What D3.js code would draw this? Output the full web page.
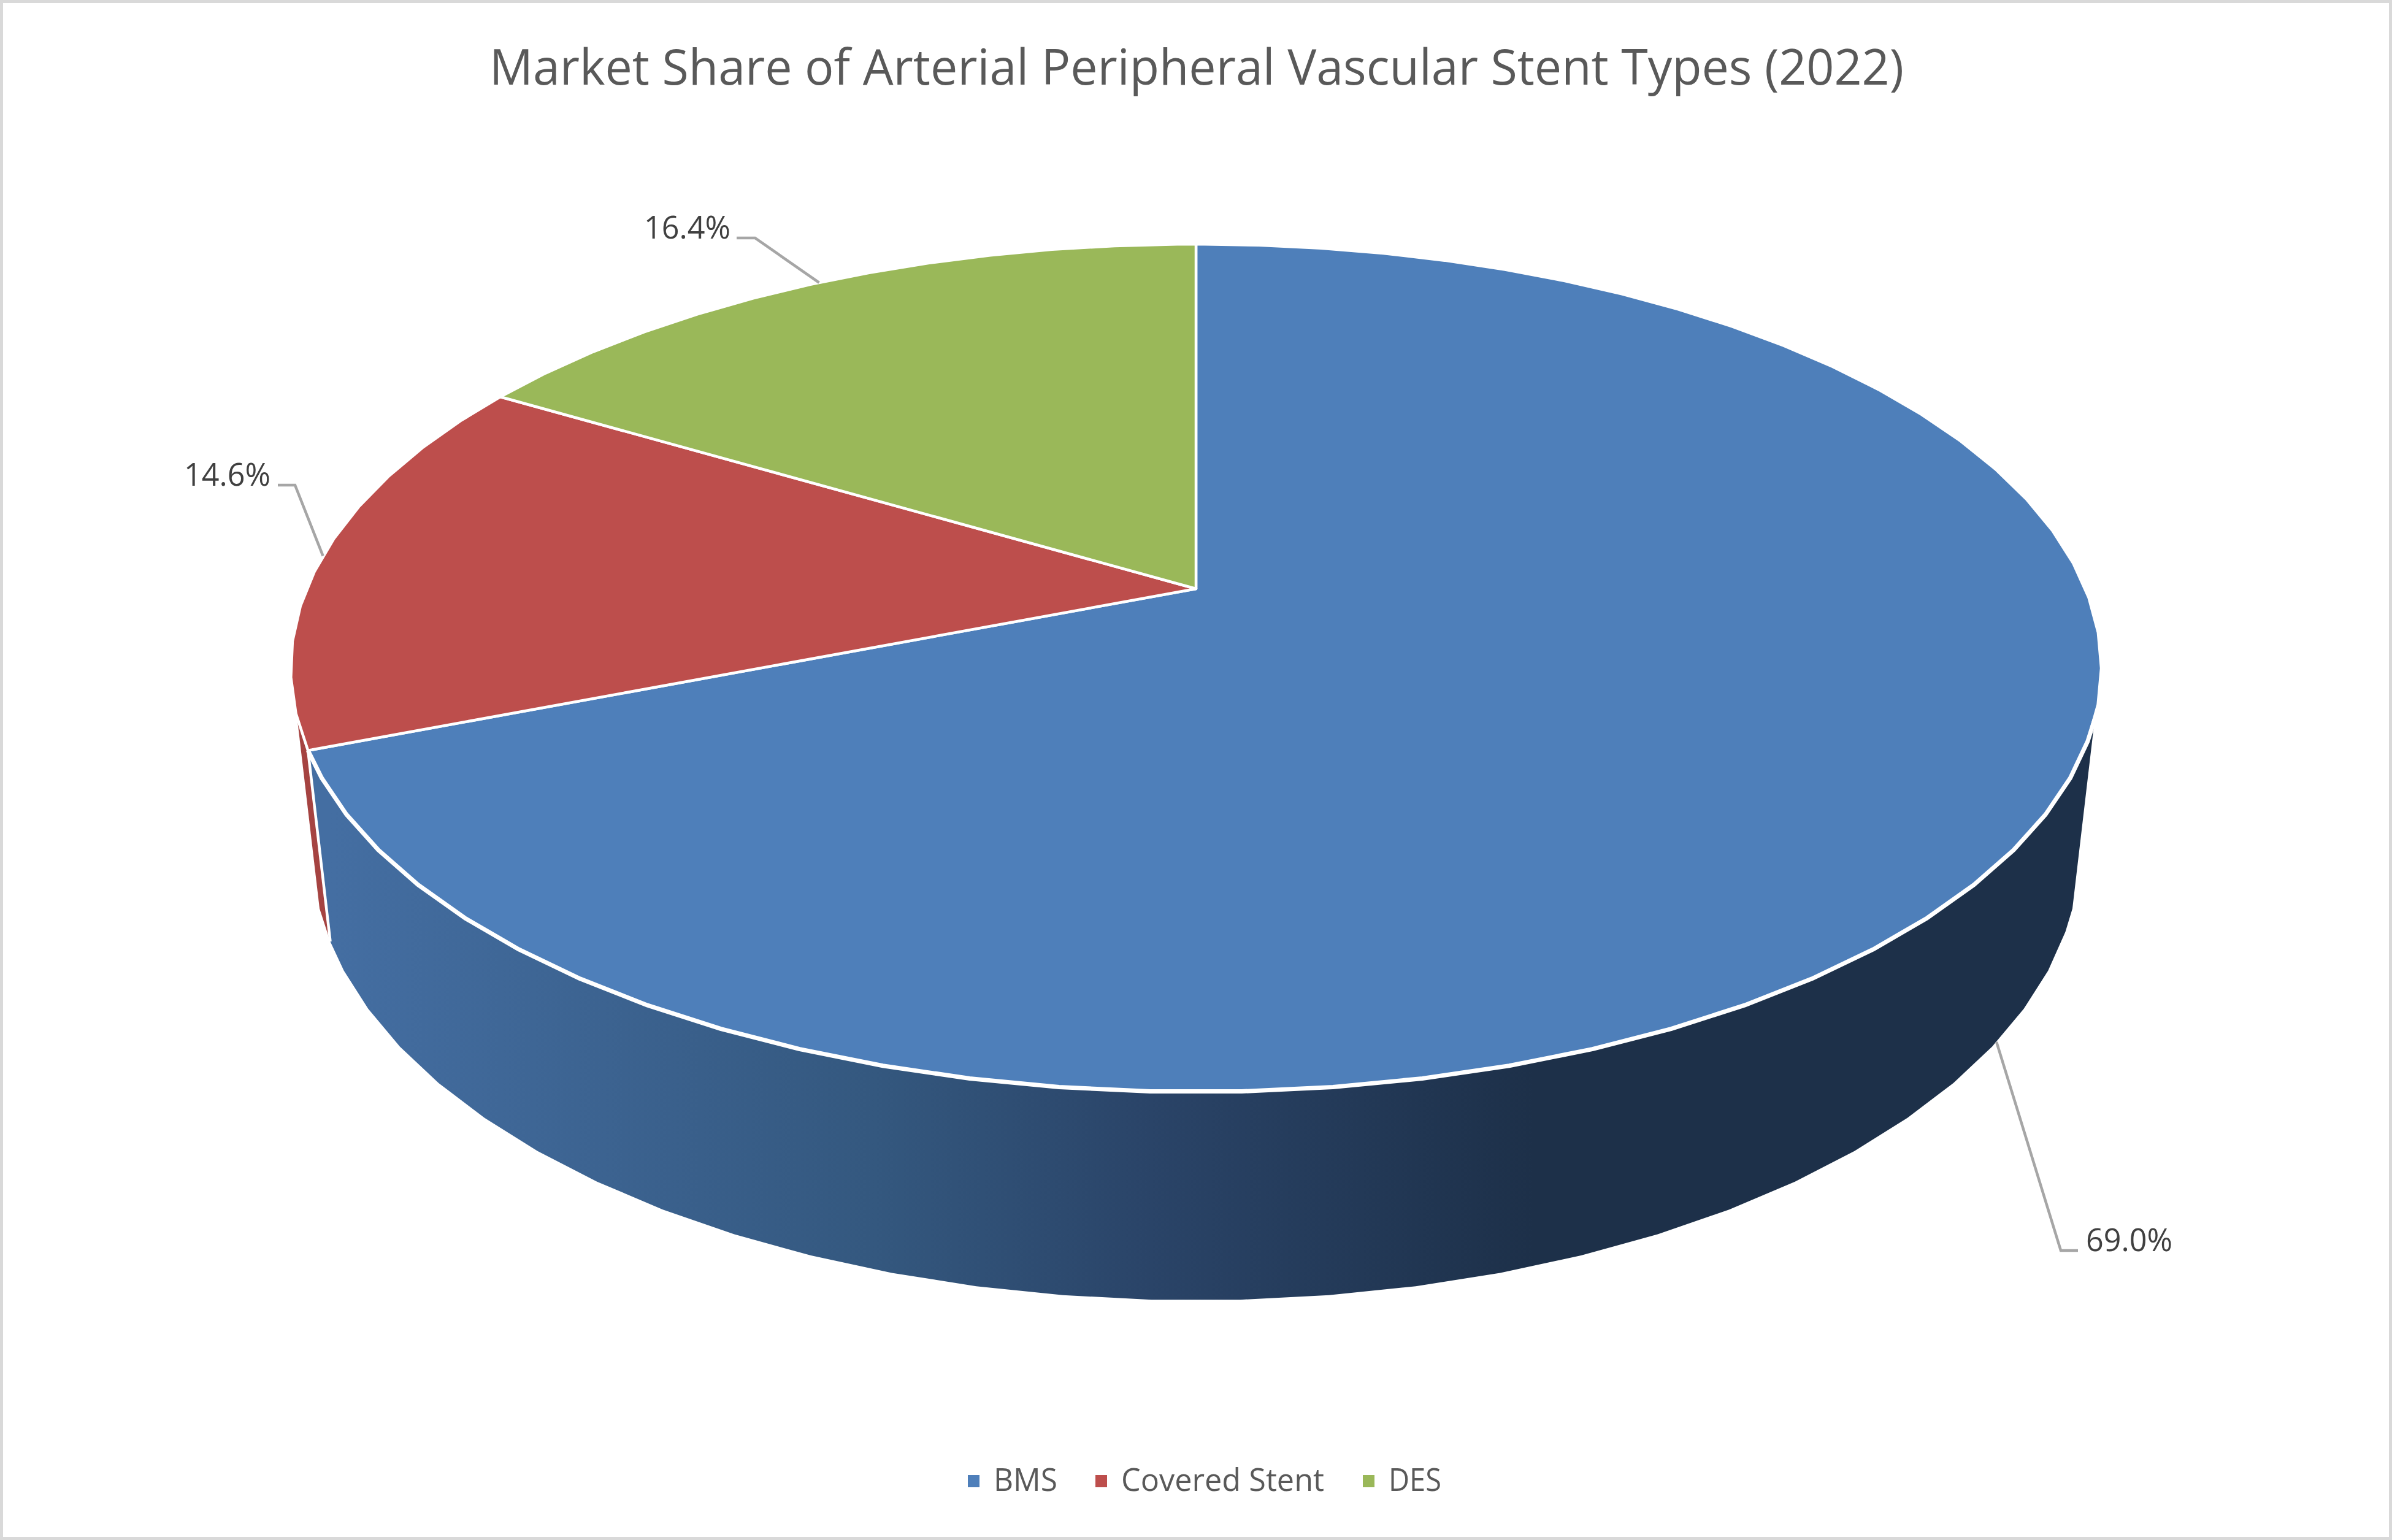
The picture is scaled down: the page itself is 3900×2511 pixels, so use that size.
<!DOCTYPE html>
<html>
<head>
<meta charset="utf-8">
<script src="https://cdn.jsdelivr.net/npm/d3@7"></script>
<style>
  html, body { margin: 0; padding: 0; background: #fff; }
  text { font-family: "Open Sans", sans-serif; }
</style>
</head>
<body>
<div class="chart"></div>
<script>
var chartTitle = "Market Share of Arterial Peripheral Vascular Stent Types (2022)";
var categories = ["BMS", "Covered Stent", "DES"];
var shares = [69.0, 14.6, 16.4];
var topColors = ["#4e7fba", "#bd4e4c", "#9ab859"];

var width = 3900, height = 2511;

var canvas = d3.select(".chart").append("svg")
        .attr("width", width)
        .attr("height", height)
        .style("display", "block");

canvas.append("rect")
        .attr("x", 2.5).attr("y", 2.5)
        .attr("width", width - 5).attr("height", height - 5)
        .attr("fill", "#fff")
        .attr("stroke", "#d9d9d9")
        .attr("stroke-width", 5);

// pie is a flat disc seen in perspective, near edge is bigger than the far edge
var cx = 1950, cy = 960;
var radX = 1450, radY = 667, tilt = 0.187;
var wallDrop = 304, wallShrink = 1.024;

function project(angle, isBottom) {
    var u = Math.sin(angle), v = -Math.cos(angle);
    var w = (isBottom ? wallShrink : 1) - tilt * v;
    return [
        cx + radX * u / w,
        cy + (radY * v + (isBottom ? wallDrop : 0)) / w
    ];
}

var arcs = d3.pie().sort(null).value(function (d) { return d; })(shares);

// excel draws the rim as short straight pieces, 4.8 degrees each, counted from the slice start
var rimStep = 4.8 * Math.PI / 180;

function rimAngles(from, to) {
    return d3.range(from, to - 1e-6, rimStep).concat([to]);
}

var line = d3.line();

// wall pieces first, they sit under the top face
var wallStart = 107.5 * Math.PI / 180;

var wallGrad = canvas.append("defs").append("linearGradient")
        .attr("id", "wallGrad")
        .attr("gradientUnits", "userSpaceOnUse")
        .attr("x1", 540).attr("x2", 2500)
        .attr("y1", 0).attr("y2", 0);
wallGrad.selectAll("stop")
        .data([[0, "#446ea2"], [0.45, "#34587f"], [0.68, "#2a4468"], [1, "#1d3049"]])
        .enter()
        .append("stop")
        .attr("offset", function (d) { return d[0]; })
        .attr("stop-color", function (d) { return d[1]; });

function wallPath(angles) {
    var top = angles.map(function (t) { return project(t, false); });
    var bottom = angles.map(function (t) { return project(t, true); }).reverse();
    return line(top.concat(bottom)) + "Z";
}

canvas.append("path")
        .attr("d", wallPath(rimAngles(arcs[1].startAngle, 2 * Math.PI - wallStart)))
        .attr("fill", "#a54341");

var blueWall = rimAngles(0, arcs[0].endAngle).filter(function (t) { return t > wallStart; });
blueWall.unshift(wallStart);

canvas.append("path")
        .attr("d", wallPath(blueWall))
        .attr("fill", "url(#wallGrad)");

canvas.append("path")
        .attr("d", line([project(arcs[0].endAngle, false), project(arcs[0].endAngle, true)]))
        .attr("stroke", "#fff")
        .attr("stroke-width", 4.5)
        .attr("fill", "none");

// top face
canvas.selectAll(".slice")
        .data(arcs)
        .enter()
        .append("path")
        .attr("class", "slice")
        .attr("d", function (d) {
            var pts = rimAngles(d.startAngle, d.endAngle).map(function (t) { return project(t, false); });
            return line([[cx, cy]].concat(pts)) + "Z";
        })
        .attr("fill", function (d, i) { return topColors[i]; })
        .attr("stroke", "#fff")
        .attr("stroke-width", 4.5)
        .attr("stroke-linejoin", "round");

// the rim over the wall shows a heavier white edge
canvas.append("path")
        .attr("d", line(blueWall.map(function (t) { return project(t, false); })))
        .attr("fill", "none")
        .attr("stroke", "#fff")
        .attr("stroke-width", 7)
        .attr("stroke-linejoin", "round");

// leader lines leave the outer rim at the middle of each slice
var labelSpots = [
    { elbowX: 3360, endX: 3388, y: 2039, textX: 3401, useBottom: true },
    { elbowX: 481, endX: 453, y: 791, textX: 300, useBottom: false },
    { elbowX: 1231, endX: 1201, y: 388, textX: 1050, useBottom: false }
];

var labels = canvas.selectAll(".label")
        .data(arcs)
        .enter()
        .append("g")
        .attr("class", "label");

labels.append("path")
        .attr("d", function (d, i) {
            var s = labelSpots[i];
            var mid = (d.startAngle + d.endAngle) / 2;
            return line([project(mid, s.useBottom), [s.elbowX, s.y], [s.endX, s.y]]);
        })
        .attr("fill", "none")
        .attr("stroke", "#a6a6a6")
        .attr("stroke-width", 4.5);

labels.append("text")
        .attr("x", function (d, i) { return labelSpots[i].textX; })
        .attr("y", function (d, i) { return labelSpots[i].y + 1; })
        .attr("font-size", 52)
        .attr("textLength", 141)
        .attr("lengthAdjust", "spacingAndGlyphs")
        .attr("fill", "#404040")
        .text(function (d) { return d.value.toFixed(1) + "%"; });

canvas.append("text")
        .attr("x", 798)
        .attr("y", 138)
        .attr("font-size", 81)
        .attr("textLength", 2306)
        .attr("lengthAdjust", "spacingAndGlyphs")
        .attr("fill", "#595959")
        .text(chartTitle);

// legend
var legendX = d3.scaleOrdinal().domain(categories).range([1578, 1786, 2222]);
var legendTextLen = d3.scaleOrdinal().domain(categories).range([104, 331, 86]);

var legend = canvas.selectAll(".legend")
        .data(categories)
        .enter()
        .append("g")
        .attr("class", "legend");

legend.append("rect")
        .attr("x", function (d) { return legendX(d); })
        .attr("y", 2405)
        .attr("width", 19)
        .attr("height", 20)
        .attr("fill", function (d, i) { return topColors[i]; });

legend.append("text")
        .attr("x", function (d) { return legendX(d) + 42; })
        .attr("y", 2431)
        .attr("font-size", 52)
        .attr("textLength", function (d) { return legendTextLen(d); })
        .attr("lengthAdjust", "spacingAndGlyphs")
        .attr("fill", "#595959")
        .text(function (d) { return d; });
</script>
</body>
</html>
